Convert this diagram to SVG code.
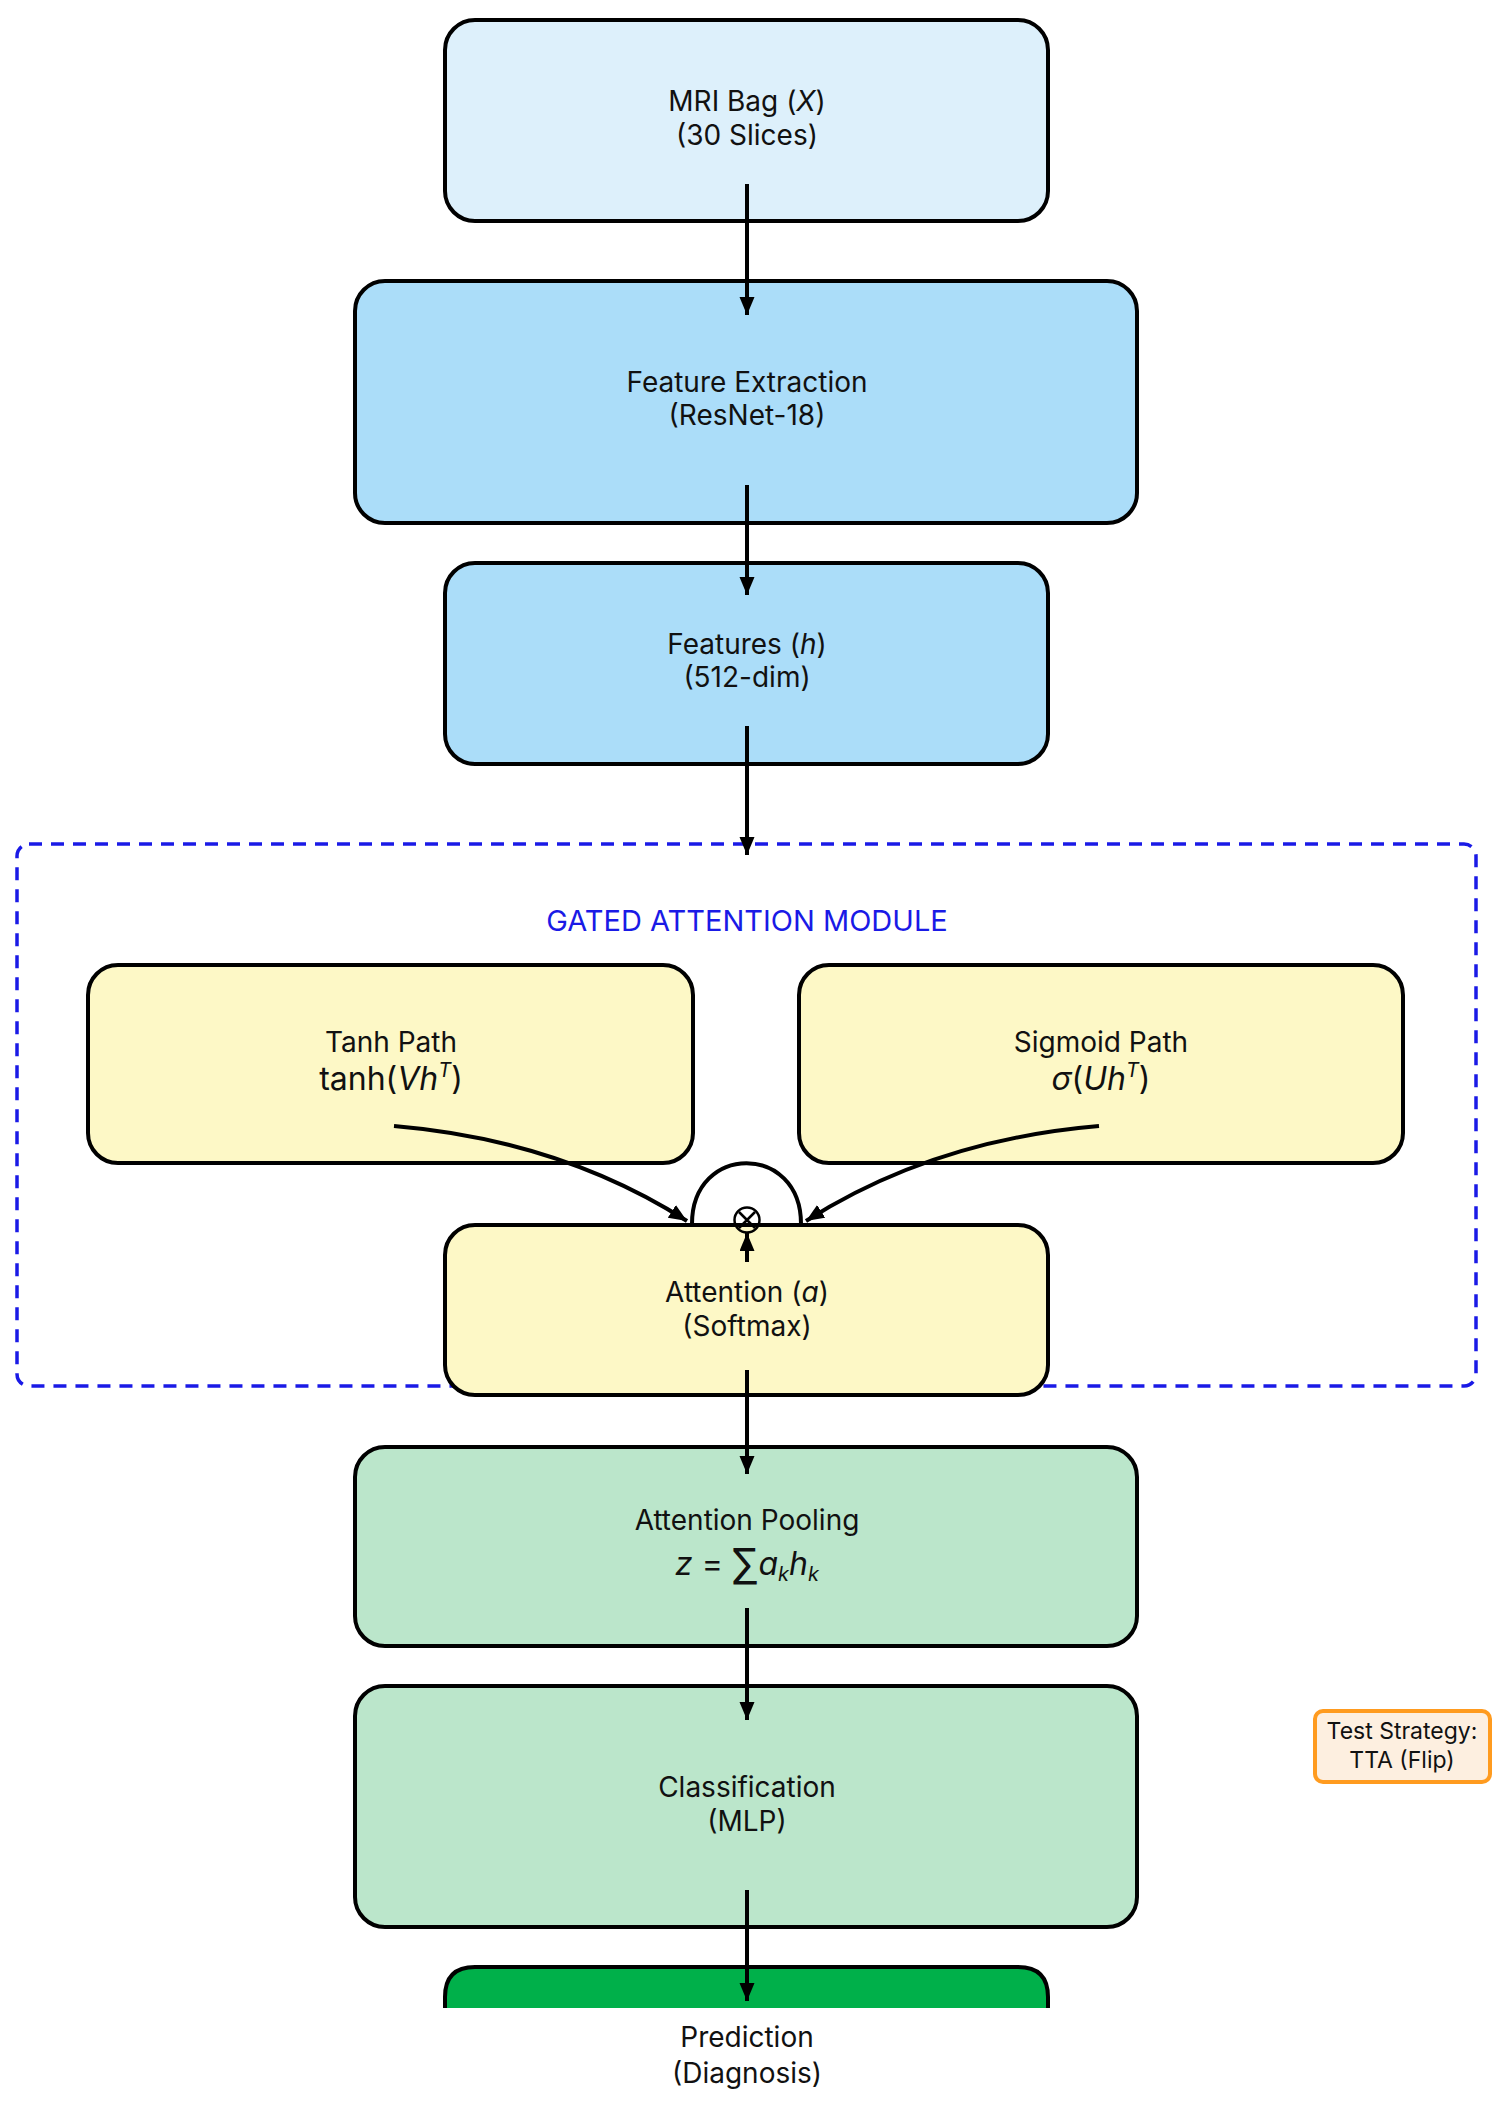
<svg xmlns="http://www.w3.org/2000/svg" width="1501" height="2101" viewBox="0 0 1501 2101">
<style>
.node{stroke:#000;stroke-width:4}
.t{font-family:Inter,"Liberation Sans",sans-serif;font-size:28px;fill:#111;text-anchor:middle}
.s{font-family:Inter,"Liberation Sans",sans-serif;font-size:23px;fill:#111;text-anchor:middle}
.m{font-family:Inter,"DejaVu Sans",sans-serif;font-size:32px;fill:#111;text-anchor:middle}
.i{font-style:italic}
.conn{stroke:#000;stroke-width:4;fill:none}
</style>
<defs>
<marker id="ah" markerUnits="userSpaceOnUse" markerWidth="20" markerHeight="16" refX="18" refY="7.5" orient="auto">
<path d="M0,0 L18,7.5 L0,15 z" fill="#000"/>
</marker>
</defs>
<rect width="1501" height="2101" fill="#fff"/>

<g id="gated-module">
<rect x="17" y="844" width="1459" height="542" rx="12" fill="none" stroke="#1a1ae6" stroke-width="3.5" stroke-dasharray="13,9"/>
<text x="747" y="931" style="font-family:Inter,'Liberation Sans',sans-serif;font-size:29px;fill:#1a1ae6;text-anchor:middle">GATED ATTENTION MODULE</text>
</g>

<g id="mri-bag">
<rect class="node" x="445" y="20" width="603" height="201" rx="30" fill="#ddf0fb"/>
<text class="t" x="747" y="111">MRI Bag (<tspan class="i">X</tspan>)</text>
<text class="t" x="747" y="145">(30 Slices)</text>
</g>

<g id="feature-extraction">
<rect class="node" x="355" y="281" width="782" height="242" rx="30" fill="#abddf9"/>
<text class="t" x="747" y="392">Feature Extraction</text>
<text class="t" x="747" y="425">(ResNet-18)</text>
</g>

<g id="features">
<rect class="node" x="445" y="563" width="603" height="201" rx="30" fill="#abddf9"/>
<text class="t" x="747" y="654">Features (<tspan class="i">h</tspan>)</text>
<text class="t" x="747" y="687">(512-dim)</text>
</g>

<g id="tanh-path">
<rect class="node" x="88" y="965" width="605" height="198" rx="30" fill="#fdf8c6"/>
<text class="t" x="391" y="1052">Tanh Path</text>
<text class="m" x="391" y="1090">tanh(<tspan class="i">Vh</tspan><tspan class="i" font-size="20" dy="-13">T</tspan><tspan dy="13">)</tspan></text>
</g>

<g id="sigmoid-path">
<rect class="node" x="799" y="965" width="604" height="198" rx="30" fill="#fdf8c6"/>
<text class="t" x="1101" y="1052">Sigmoid Path</text>
<text class="m" x="1101" y="1090"><tspan class="i">σ</tspan>(<tspan class="i">Uh</tspan><tspan class="i" font-size="20" dy="-13">T</tspan><tspan dy="13">)</tspan></text>
</g>

<g id="attention">
<rect class="node" x="445" y="1225" width="603" height="170" rx="30" fill="#fdf8c6"/>
<text class="t" x="747" y="1302">Attention (<tspan class="i">a</tspan>)</text>
<text class="t" x="747" y="1336">(Softmax)</text>
</g>

<g id="attention-pooling">
<rect class="node" x="355" y="1447" width="782" height="199" rx="30" fill="#bbe6cb"/>
<text class="t" x="747" y="1530">Attention Pooling</text>
<text class="m" x="747" y="1575"><tspan class="i">z</tspan> = <tspan font-size="42" dy="4">∑</tspan><tspan class="i" dy="-4">a</tspan><tspan class="i" font-size="20" dy="6">k</tspan><tspan class="i" dy="-6">h</tspan><tspan class="i" font-size="20" dy="6">k</tspan></text>
</g>

<g id="classification">
<rect class="node" x="355" y="1686" width="782" height="241" rx="30" fill="#bbe6cb"/>
<text class="t" x="747" y="1797">Classification</text>
<text class="t" x="747" y="1831">(MLP)</text>
</g>

<g id="prediction">
<path class="node" d="M445,2008 V1997 Q445,1967 475,1967 H1018 Q1048,1967 1048,1997 V2008" fill="#00b04a"/>
<text class="t" x="747" y="2047">Prediction</text>
<text class="t" x="747" y="2083">(Diagnosis)</text>
</g>

<g id="test-strategy">
<rect x="1315" y="1711" width="175" height="71" rx="8" fill="#fdefe0" stroke="#ff9b1f" stroke-width="4"/>
<text class="s" x="1402" y="1739">Test Strategy:</text>
<text class="s" x="1402" y="1768">TTA (Flip)</text>
</g>

<g id="connectors">
<path class="conn" d="M747,184 V315" marker-end="url(#ah)"/>
<path class="conn" d="M747,485 V595" marker-end="url(#ah)"/>
<path class="conn" d="M747,726 V855" marker-end="url(#ah)"/>
<path class="conn" d="M394,1126 Q560,1140 687,1221" marker-end="url(#ah)"/>
<path class="conn" d="M1099,1126 Q933,1140 806,1221" marker-end="url(#ah)"/>
<path class="conn" d="M692,1224 C692,1143 801,1143 801,1224" stroke-width="3.5"/>
<circle cx="747" cy="1220" r="12.5" fill="none" stroke="#000" stroke-width="2.5"/>
<path d="M739,1212 L755,1228 M755,1212 L739,1228" stroke="#000" stroke-width="2.5"/>
<path class="conn" d="M747,1262 V1233" stroke-width="3" marker-end="url(#ah)"/>
<path class="conn" d="M747,1370 V1474" marker-end="url(#ah)"/>
<path class="conn" d="M747,1608 V1720" marker-end="url(#ah)"/>
<path class="conn" d="M747,1890 V2001" marker-end="url(#ah)"/>
</g>
</svg>
